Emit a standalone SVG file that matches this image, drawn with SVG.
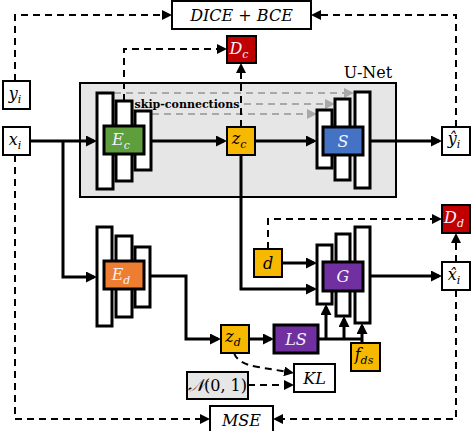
<svg xmlns="http://www.w3.org/2000/svg" width="474" height="431" viewBox="0 0 474 431">
<style>
.bg{fill:#ffffff}
.box{fill:#ffffff;stroke:#000;stroke-width:2}
.col{fill:#ffffff;stroke:#000;stroke-width:3}
.gold{fill:#f7b900;stroke:#000;stroke-width:2}
.red{fill:#c00000;stroke:#000;stroke-width:2}
.purple{fill:#7030a0;stroke:#000;stroke-width:3}
.gray{fill:#e6e6e6;stroke:#000;stroke-width:2}
.m{font-family:'DejaVu Serif',serif;font-style:italic;font-size:16px;text-anchor:middle;fill:#000}
.w{fill:#f4f0ff}
.sub{font-size:11px}
.solid{fill:none;stroke:#000;stroke-width:3;marker-end:url(#ah)}
.plain{fill:none;stroke:#000;stroke-width:3}
.dash{fill:none;stroke:#000;stroke-width:2;stroke-dasharray:7 5;marker-end:url(#ahs)}
.skip{fill:none;stroke:#a8a8a8;stroke-width:2;stroke-dasharray:7 5;marker-end:url(#ahg)}
.lbl{font-family:'DejaVu Serif',serif;fill:#000}
</style>
<defs>
<marker id="ah" viewBox="0 0 10 10" refX="7.3" refY="5" markerWidth="11" markerHeight="11" markerUnits="userSpaceOnUse" orient="auto"><path d="M0,0 L10,5 L0,10 z" fill="#000"/></marker>
<marker id="ahs" viewBox="0 0 10 10" refX="7" refY="5" markerWidth="10" markerHeight="10" markerUnits="userSpaceOnUse" orient="auto"><path d="M0,0 L10,5 L0,10 z" fill="#000"/></marker>
<marker id="ahg" viewBox="0 0 10 10" refX="7" refY="5" markerWidth="10" markerHeight="10" markerUnits="userSpaceOnUse" orient="auto"><path d="M0,0 L10,5 L0,10 z" fill="#a8a8a8"/></marker>
</defs>
<rect class="bg" x="0" y="0" width="474" height="431"/>

<g id="unet">
<rect x="80" y="83" width="316" height="114" class="gray"/>
<text x="368" y="78" class="lbl" font-size="16" text-anchor="middle">U-Net</text>
</g>

<g id="skip-connections">
<path class="skip" d="M114,93 H351"/>
<path class="skip" d="M244,104 H332"/>
<path class="skip" d="M152,114 H314"/>
<text x="187" y="108" class="lbl" font-size="11" font-weight="bold" text-anchor="middle">skip-connections</text>
</g>

<g id="connectors">
<path class="solid" d="M30,141 H94"/>
<path class="solid" d="M63,141 V277 H94"/>
<path class="solid" d="M151,141 H224"/>
<path class="solid" d="M255,141 H314"/>
<path class="solid" d="M370,141 H439"/>
<path class="solid" d="M241,155 V289 H314"/>
<path class="solid" d="M282,263 H314"/>
<path class="solid" d="M370,276 H439"/>
<path class="solid" d="M150,276 H186 V339 H218"/>
<path class="solid" d="M249,339 H271"/>
<path class="plain" d="M318,339 H362"/>
<path class="solid" d="M326,339 V307"/>
<path class="solid" d="M344,339 V319"/>
<path class="solid" d="M362,343 V326"/>
<path class="dash" d="M15,81 V15 H169"/>
<path class="dash" d="M456,127 V15 H314"/>
<path class="dash" d="M124,101 V49 H224"/>
<path class="dash" d="M241,127 V66"/>
<path class="dash" d="M268,249 V219 H439"/>
<path class="dash" d="M456,262 V236"/>
<path class="dash" d="M15,155 V419 H207"/>
<path class="dash" d="M456,290 V419 H276"/>
<path class="dash" d="M248,385 H291"/>
<path class="dash" d="M234,353 Q238,364 258,367 L291,372.5"/>
</g>

<g id="yi">
<rect x="3" y="81" width="27" height="28" class="box"/>
<text x="15" y="99" class="m">y<tspan class="sub" dy="4">i</tspan></text>
</g>
<g id="xi">
<rect x="3" y="127" width="27" height="28" class="box"/>
<text x="15" y="145" class="m">x<tspan class="sub" dy="4">i</tspan></text>
</g>
<g id="dice-bce">
<rect x="172" y="1" width="139" height="28" class="box"/>
<text x="241.5" y="21" class="m" font-size="17">DICE + BCE</text>
</g>
<g id="Dc">
<rect x="227" y="36" width="29" height="27" class="red"/>
<text x="239" y="54" class="m w">D<tspan class="sub" dy="4">c</tspan></text>
</g>

<g id="Ec">
<rect x="97" y="93" width="16" height="96" class="col"/>
<rect x="116" y="101" width="16" height="80" class="col"/>
<rect x="135" y="111" width="16" height="59" class="col"/>
<rect x="104" y="126" width="40" height="28" fill="#5e9e3c" stroke="#000" stroke-width="3"/>
<text x="121" y="145" class="m w">E<tspan class="sub" dy="4">c</tspan></text>
</g>

<g id="zc">
<rect x="227" y="127" width="28" height="28" class="gold"/>
<text x="239" y="144" class="m">z<tspan class="sub" dy="4">c</tspan></text>
</g>

<g id="S">
<rect x="317" y="110" width="15" height="58" class="col"/>
<rect x="335" y="99" width="15" height="81" class="col"/>
<rect x="355" y="92" width="15" height="96" class="col"/>
<rect x="323" y="127" width="40" height="28" fill="#4472c4" stroke="#000" stroke-width="3"/>
<text x="343" y="147" class="m w">S</text>
</g>

<g id="yhat">
<rect x="442" y="127" width="28" height="28" class="box"/>
<text x="454" y="144" class="m">ŷ<tspan class="sub" dy="4">i</tspan></text>
</g>

<g id="Ed">
<rect x="97" y="227" width="15" height="99" class="col"/>
<rect x="116" y="236" width="16" height="81" class="col"/>
<rect x="135" y="247" width="15" height="60" class="col"/>
<rect x="104" y="261" width="40" height="28" fill="#ed7d31" stroke="#000" stroke-width="3"/>
<text x="121" y="280" class="m w">E<tspan class="sub" dy="4">d</tspan></text>
</g>

<g id="d">
<rect x="254" y="249" width="28" height="28" class="gold"/>
<text x="268" y="269" class="m">d</text>
</g>

<g id="G">
<rect x="317" y="245" width="15" height="59" class="col"/>
<rect x="336" y="234" width="14" height="82" class="col"/>
<rect x="355" y="227" width="15" height="96" class="col"/>
<rect x="323" y="262" width="40" height="29" class="purple"/>
<text x="343" y="282" class="m w">G</text>
</g>

<g id="Dd">
<rect x="442" y="205" width="28" height="28" class="red"/>
<text x="454" y="223" class="m w">D<tspan class="sub" dy="4">d</tspan></text>
</g>

<g id="xhat">
<rect x="442" y="262" width="28" height="28" class="box"/>
<text x="454" y="280" class="m">x̂<tspan class="sub" dy="4">i</tspan></text>
</g>

<g id="zd">
<rect x="221" y="325" width="28" height="28" class="gold"/>
<text x="233" y="342" class="m">z<tspan class="sub" dy="4">d</tspan></text>
</g>

<g id="LS">
<rect x="274" y="325" width="44" height="28" class="purple"/>
<text x="296" y="345" class="m w">LS</text>
</g>

<g id="fds">
<rect x="351" y="343" width="29" height="28" class="gold"/>
<text x="364" y="360" class="m">f<tspan class="sub" dy="4">ds</tspan></text>
</g>

<g id="KL">
<rect x="294" y="364" width="41" height="28" class="box"/>
<text x="314.5" y="384" class="m">KL</text>
</g>

<g id="normal">
<rect x="187" y="372" width="61" height="27" class="gray"/>
<text x="217.5" y="391" class="m" font-size="15"><tspan font-family="'Liberation Serif','Times New Roman',serif" font-size="17">𝒩</tspan><tspan font-style="normal">(0, 1)</tspan></text>
</g>

<g id="MSE">
<rect x="210" y="406" width="63" height="28" class="box"/>
<text x="241.5" y="426" class="m">MSE</text>
</g>
</svg>
